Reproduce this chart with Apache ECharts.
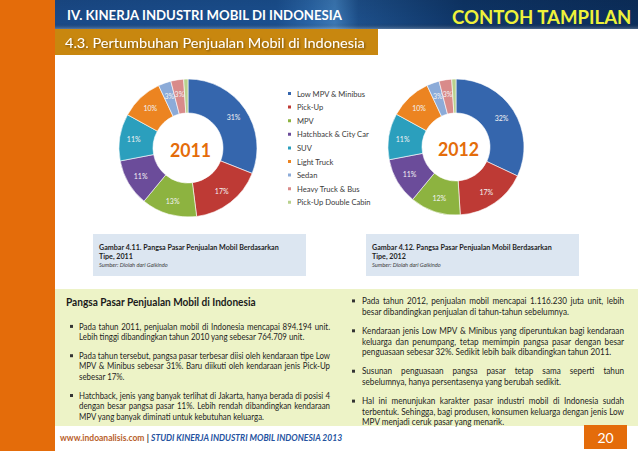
<!DOCTYPE html>
<html><head><meta charset="utf-8">
<script src="https://cdn.jsdelivr.net/npm/echarts@6/dist/echarts.min.js"></script>
<style>html,body{margin:0;padding:0;background:#fff}#c{width:638px;height:451px}</style>
</head><body><div id="c"></div>
<script>
// ---------- data ----------
const categories = ['Low MPV & Minibus','Pick-Up','MPV','Hatchback & City Car','SUV','Light Truck','Sedan','Heavy Truck & Bus','Pick-Up Double Cabin'];
const share2011 = [31,17,13,11,11,10,3,3,1];
const share2012 = [32,17,12,11,11,10,3,3,1];
const years = ['2011','2012'];
const sliceColors = ['#3566ad','#be3a35','#8db340','#6b4c9a','#2b9fbd','#ec8421','#8cabd8','#d98b8a','#b8d18d'];

const headerTitle = 'IV. KINERJA INDUSTRI MOBIL DI INDONESIA';
const headerTag = 'CONTOH TAMPILAN';
const sectionTitle = '4.3. Pertumbuhan Penjualan Mobil di Indonesia';
const caption1 = ['Gambar 4.11. Pangsa Pasar Penjualan Mobil Berdasarkan','Tipe, 2011'];
const caption2 = ['Gambar 4.12. Pangsa Pasar Penjualan Mobil Berdasarkan','Tipe, 2012'];
const captionSource = 'Sumber: Diolah dari Gaikindo';
const leftHeading = 'Pangsa Pasar Penjualan Mobil di Indonesia';
const leftParas = [
  ['Pada tahun 2011, penjualan mobil di Indonesia mencapai 894.194 unit.','Lebih tinggi dibandingkan tahun 2010 yang sebesar 764.709 unit.'],
  ['Pada tahun tersebut, pangsa pasar terbesar diisi oleh kendaraan tipe Low','MPV & Minibus sebesar 31%. Baru diikuti oleh kendaraan jenis Pick-Up','sebesar 17%.'],
  ['Hatchback, jenis yang banyak terlihat di Jakarta, hanya berada di posisi 4','dengan besar pangsa pasar 11%. Lebih rendah dibandingkan kendaraan','MPV yang banyak diminati untuk kebutuhan keluarga.']
];
const rightParas = [
  ['Pada tahun 2012, penjualan mobil mencapai 1.116.230 juta unit, lebih','besar dibandingkan penjualan di tahun-tahun sebelumnya.'],
  ['Kendaraan jenis Low MPV & Minibus yang diperuntukan bagi kendaraan','keluarga dan penumpang, tetap memimpin pangsa pasar dengan besar','penguasaan sebesar 32%. Sedikit lebih baik dibandingkan tahun 2011.'],
  ['Susunan penguasaan pangsa pasar tetap sama seperti tahun','sebelumnya, hanya persentasenya yang berubah sedikit.'],
  ['Hal ini menunjukan karakter pasar industri mobil di Indonesia sudah','terbentuk. Sehingga, bagi produsen, konsumen keluarga dengan jenis Low','MPV menjadi ceruk pasar yang menarik.']
];
const footerSite = 'www.indoanalisis.com';
const footerStudy = 'STUDI KINERJA INDUSTRI MOBIL INDONESIA 2013';
const pageNo = '20';

// ---------- helpers ----------
const FONT = 'Lato';
const mctx = document.createElement('canvas').getContext('2d');
function measure(str, size, weight, style){
  mctx.font = (style||'normal') + ' ' + (weight||'normal') + ' ' + size + 'px ' + FONT;
  return mctx.measureText(str).width;
}
function textEl(str, x, y, size, o){
  o = o || {};
  const st = {text:str, fontSize:size, fontFamily:FONT, fontWeight:o.weight||'normal', fontStyle:o.style||'normal',
    fill:o.fill||'#1e1e1e', align:o.align||'left', verticalAlign:'middle', textAlign:o.align||'left', textVerticalAlign:'middle'};
  if (o.shadow){ st.textShadowColor = o.shadow; st.textShadowBlur = 2; st.textShadowOffsetX = 1; st.textShadowOffsetY = 1; }
  if (o.rich){ st.rich = o.rich; }
  return {type:'text', x:x, y:y, scaleX:o.scaleX||1, z:100, silent:true, style:st};
}
function fitEl(str, x, y, w, size, o){
  o = o || {};
  const s = w / measure(str, size, o.weight, o.style);
  return textEl(str, x, y, size, Object.assign({}, o, {scaleX:s}));
}
function rect(x, y, w, h, fill, z){
  return {type:'rect', shape:{x:x, y:y, width:w, height:h}, style:{fill:fill}, z:z||0, silent:true};
}
function bodyColumn(paras, x0, W, y0, lineH, paraGap, size, bulletX){
  const els = [];
  let f = 1;
  paras.forEach(p => p.forEach((ln, i) => { if (i < p.length-1) f = Math.min(f, W / measure(ln, size)); }));
  let y = y0;
  paras.forEach(p => {
    els.push(rect(bulletX, y-1.6, 3, 3, '#333', 100));
    p.forEach((ln, i) => {
      if (i < p.length-1){
        const words = ln.split(' ');
        const ws = words.map(w => measure(w, size) * f);
        const tot = ws.reduce((a,b)=>a+b, 0);
        const gap = (W - tot) / (words.length - 1);
        let x = x0;
        words.forEach((w, k) => { els.push(textEl(w, x, y, size, {scaleX:f})); x += ws[k] + gap; });
      } else {
        els.push(textEl(ln, x0, y, size, {scaleX:f}));
      }
      y += lineH;
    });
    y += paraGap;
  });
  return els;
}

// ---------- chart ----------
const chart = echarts.init(document.getElementById('c'), null, {renderer:'svg', width:638, height:451});

function pieSeries(name, values, center, radius){
  return {
    type:'pie', name:name, center:center, radius:radius, startAngle:90, clockwise:true,
    avoidLabelOverlap:false, silent:true, animation:false,
    label:{show:true, position:'inside', formatter:'{c}%', fontSize:7, color:'#f2f2f2', fontFamily:FONT},
    labelLine:{show:false},
    itemStyle:{borderColor:'#ffffff', borderWidth:0.6},
    emphasis:{disabled:true},
    data: categories.map((n, i) => ({name:n, value:values[i]}))
  };
}

const graphics = [];
// page backgrounds
graphics.push(rect(0, 0, 55, 451, '#e46c0a'));
graphics.push({type:'rect', shape:{x:55, y:0, width:583, height:29}, silent:true, z:0,
  style:{fill:{type:'linear', x:0, y:0, x2:1, y2:0, colorStops:[
    {offset:0, color:'#1a4a88'},{offset:0.38, color:'#1a4f8f'},{offset:0.44, color:'#2a65a6'},
    {offset:0.48, color:'#3b78b5'},{offset:0.52, color:'#1d4f8a'},{offset:0.7, color:'#0e3567'},{offset:1, color:'#0c2e5c'}]}}});
graphics.push({type:'rect', shape:{x:55, y:0, width:583, height:29}, silent:true, z:1,
  style:{fill:{type:'linear', x:0, y:0, x2:0, y2:1, colorStops:[
    {offset:0, color:'rgba(0,0,0,0.08)'},{offset:0.8, color:'rgba(0,0,0,0)'},{offset:1, color:'rgba(255,255,255,0.25)'}]}}});
graphics.push(rect(55, 29, 323, 26, '#c8870f'));
graphics.push(rect(93, 234, 213, 42, '#dce6f1'));
graphics.push(rect(366, 234, 213, 42, '#dce6f1'));
graphics.push(rect(55, 289, 583, 137, '#edf3c7'));
graphics.push(rect(584, 425, 43, 24, '#e46c0a'));

// header texts
graphics.push(fitEl(headerTitle, 67, 15, 276, 13, {weight:'bold', fill:'#ffffff'}));
graphics.push(fitEl(headerTag, 452, 16, 180, 19, {weight:'bold', fill:'#eef23a'}));
graphics.push(fitEl(sectionTitle, 65, 43, 300, 14, {weight:'normal', fill:'#ffffff', shadow:'rgba(0,0,0,0.45)'}));

// donut centre labels
graphics.push(fitEl(years[0], 170, 150, 41, 18.5, {weight:'bold', fill:'#e46c0a'}));
graphics.push(fitEl(years[1], 438, 149, 41, 18.5, {weight:'bold', fill:'#e46c0a'}));

// captions
[[caption1, 99], [caption2, 372]].forEach(([cap, x]) => {
  const s = 180 / measure(cap[0], 7.4, 'bold');
  graphics.push(textEl(cap[0], x, 247, 7.4, {weight:'bold', fill:'#1f1f1f', scaleX:s}));
  graphics.push(textEl(cap[1], x, 256.5, 7.4, {weight:'bold', fill:'#1f1f1f', scaleX:s}));
  graphics.push(fitEl(captionSource, x, 264.5, 69, 6, {style:'italic', fill:'#404040'}));
});

// text columns
graphics.push(fitEl(leftHeading, 66, 302, 190, 10.8, {weight:'bold', fill:'#1a1a1a'}));
bodyColumn(leftParas, 79, 251, 326.5, 10.5, 8.3, 8.8, 70).forEach(e => graphics.push(e));
bodyColumn(rightParas, 362, 262, 301, 10.5, 8.9, 8.8, 352).forEach(e => graphics.push(e));

// footer
(function(){
  const size = 10;
  const sep = ' | ';
  const nat = measure(footerSite, size, 'bold') + measure(sep, size, 'bold') + measure(footerStudy, size, 'bold', 'italic');
  const s = 283 / nat;
  graphics.push(textEl('{a|' + footerSite + '}{b|' + sep + '}{c|' + footerStudy + '}', 60, 437, size, {scaleX:s,
    rich:{a:{fill:'#b8602a', fontWeight:'bold', fontSize:size, fontFamily:FONT},
          b:{fill:'#333333', fontWeight:'bold', fontSize:size, fontFamily:FONT},
          c:{fill:'#2452a0', fontWeight:'bold', fontStyle:'italic', fontSize:size, fontFamily:FONT}}}));
})();
graphics.push(textEl(pageNo, 605.5, 437.5, 14, {align:'center', fill:'#ffffff'}));

chart.setOption({
  animation:false,
  color: sliceColors,
  legend:{orient:'vertical', left:286, top:89, padding:0, itemWidth:5, itemHeight:5, itemGap:4.6, icon:'rect',
    selectedMode:false, data:categories,
    textStyle:{fontSize:7.6, lineHeight:9, color:'#3a3a3a', fontFamily:FONT}},
  graphic:{elements:graphics},
  series:[
    pieSeries(years[0], share2011, [188,148], [35,69]),
    pieSeries(years[1], share2012, [456,147], [34,68])
  ]
});
</script>
</body></html>
